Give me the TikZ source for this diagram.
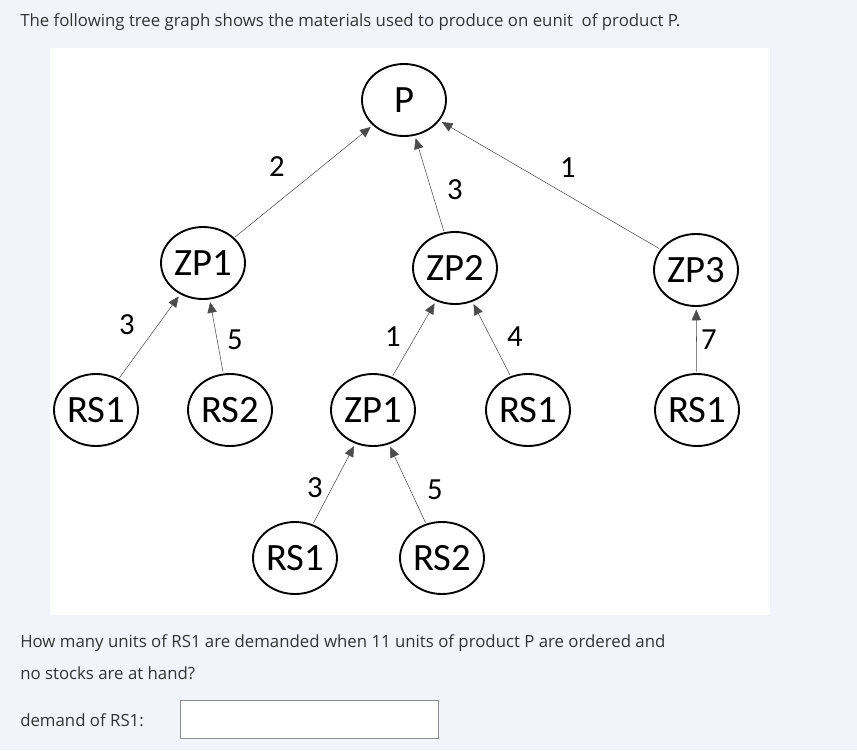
\documentclass[tikz,border=0pt]{standalone}
\usepackage{fontspec}
\setmainfont{Open Sans}
\newfontfamily\calfont{Carlito}
\usetikzlibrary{shapes.geometric,arrows.meta}
\definecolor{bgc}{HTML}{F1F5FB}
\definecolor{txt}{HTML}{333333}
\begin{document}
\begin{tikzpicture}[x=0.75pt,y=-0.75pt,
  nd/.style={ellipse,draw,line width=1.4pt,minimum width=63pt,minimum height=54pt,inner sep=0pt,font=\calfont\fontsize{29}{31}\selectfont},
  ed/.style={draw=black!70,line width=0.4pt,-{Triangle[length=8pt,width=7pt]},shorten >=2pt,shorten <=1pt},
  lb/.style={font=\calfont\fontsize{23}{24}\selectfont,inner sep=0pt},
  qt/.style={font=\fontsize{12.6}{15}\selectfont,text=txt,anchor=west,inner sep=0pt}]
\fill[bgc] (0,0) rectangle (857,750);
\useasboundingbox (0,0) rectangle (857,750);
\fill[white] (50,48) rectangle (770,615);
\node[qt] (q1) at (20,22) {The following tree graph shows the materials used to produce on eunit\ \ of product P.};
\node[qt] (q2) at (20,643) {How many units of RS1 are demanded when 11 units of product P are ordered and};
\node[qt] (q3) at (20,673) {no stocks are at hand?};
\node[qt] (q4) at (20,720) {demand of RS1:};
\node[draw=black!45,fill=white,line width=0.6pt,minimum width=193.5pt,minimum height=28.5pt,inner sep=0pt] (box) at (309,719) {};
\node[nd] (P) at (404,100) {P};
\node[nd] (ZPa) at (203,263) {ZP1};
\node[nd] (ZP2) at (455,268) {ZP2};
\node[nd] (ZP3) at (696,270) {ZP3};
\node[nd] (RSa) at (96,410) {RS1};
\node[nd] (RSb) at (230,410) {RS2};
\node[nd] (ZPb) at (373,410) {ZP1};
\node[nd] (RSc) at (528,410) {RS1};
\node[nd] (RSd) at (697,410) {RS1};
\node[nd] (RSe) at (295,558) {RS1};
\node[nd] (RSf) at (442,558) {RS2};
\draw[ed] (ZPa) -- (P);
\draw[ed] (ZP2) -- (P);
\draw[ed] (ZP3) -- (P);
\draw[ed] (RSa) -- (ZPa);
\draw[ed] (RSb) -- (ZPa);
\draw[ed] (ZPb) -- (ZP2);
\draw[ed] (RSc) -- (ZP2);
\draw[ed] (RSd) -- (ZP3);
\draw[ed] (RSe) -- (ZPb);
\draw[ed] (RSf) -- (ZPb);
\node[lb] (l1) at (277,167) {2};
\node[lb] (l2) at (455,190) {3};
\node[lb] (l3) at (568,168) {1};
\node[lb] (l4) at (127,325) {3};
\node[lb] (l5) at (235,340) {5};
\node[lb] (l6) at (393,337) {1};
\node[lb] (l7) at (515,337) {4};
\node[lb] (l8) at (709,340) {7};
\node[lb] (l9) at (315,488) {3};
\node[lb] (l10) at (435,490) {5};
\end{tikzpicture}
\end{document}
